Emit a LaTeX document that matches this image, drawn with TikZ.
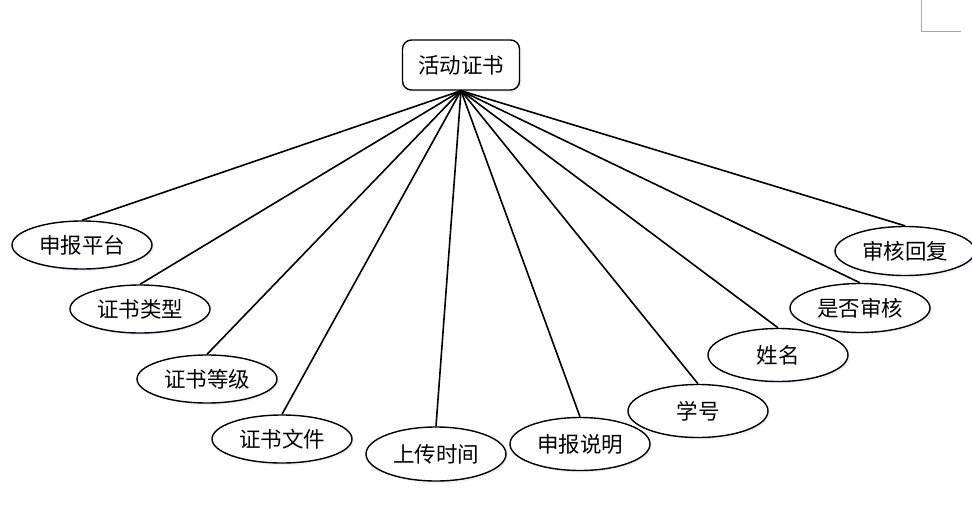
\documentclass[tikz,border=0pt]{standalone}
\usepackage{fontspec}
\setmainfont{Noto Sans CJK SC}
\usetikzlibrary{shapes.geometric,shadows}
\begin{document}
\begin{tikzpicture}[x=1pt,y=-1pt,
  attr/.style={ellipse,draw,line width=1.4pt,minimum width=140pt,minimum height=48pt,inner sep=0pt,fill=white,
    drop shadow={shadow xshift=2pt,shadow yshift=-2pt,opacity=0.25,fill=blue!25},font=\fontsize{21.5}{24}\selectfont},
  ent/.style={rectangle,rounded corners=9pt,draw,line width=1.4pt,minimum width=117pt,minimum height=50pt,inner sep=0pt,fill=white,
    drop shadow={shadow xshift=2pt,shadow yshift=-2pt,opacity=0.25,fill=blue!25},font=\fontsize{21.5}{24}\selectfont},
  link/.style={line width=1.6pt}]
\useasboundingbox (0,0) rectangle (972,509);
\draw[gray!70,line width=1pt] (921,0) coordinate (m1) -- (921,31) coordinate (m2) -- (961,31) coordinate (m3);
\node[ent] (cert) at (461,65) {活动证书};
\node[attr] (a1) at (82,245) {申报平台};
\node[attr] (a2) at (140,309) {证书类型};
\node[attr] (a3) at (207,379) {证书等级};
\node[attr] (a4) at (282,439) {证书文件};
\node[attr,minimum height=54pt] (a5) at (436,454) {上传时间};
\node[attr,minimum height=53pt] (a6) at (580,444) {申报说明};
\node[attr,minimum height=53pt] (a7) at (698,411) {学号};
\node[attr,minimum height=53pt] (a8) at (778,355) {姓名};
\node[attr,minimum height=49pt] (a9) at (860,308) {是否审核};
\node[attr,minimum height=49pt] (a10) at (905,251) {审核回复};
\foreach \n in {a1,a2,a3,a4,a5,a6,a7,a8,a9,a10}
  \draw[link] (cert.south) -- (\n.north);
\end{tikzpicture}
\end{document}
